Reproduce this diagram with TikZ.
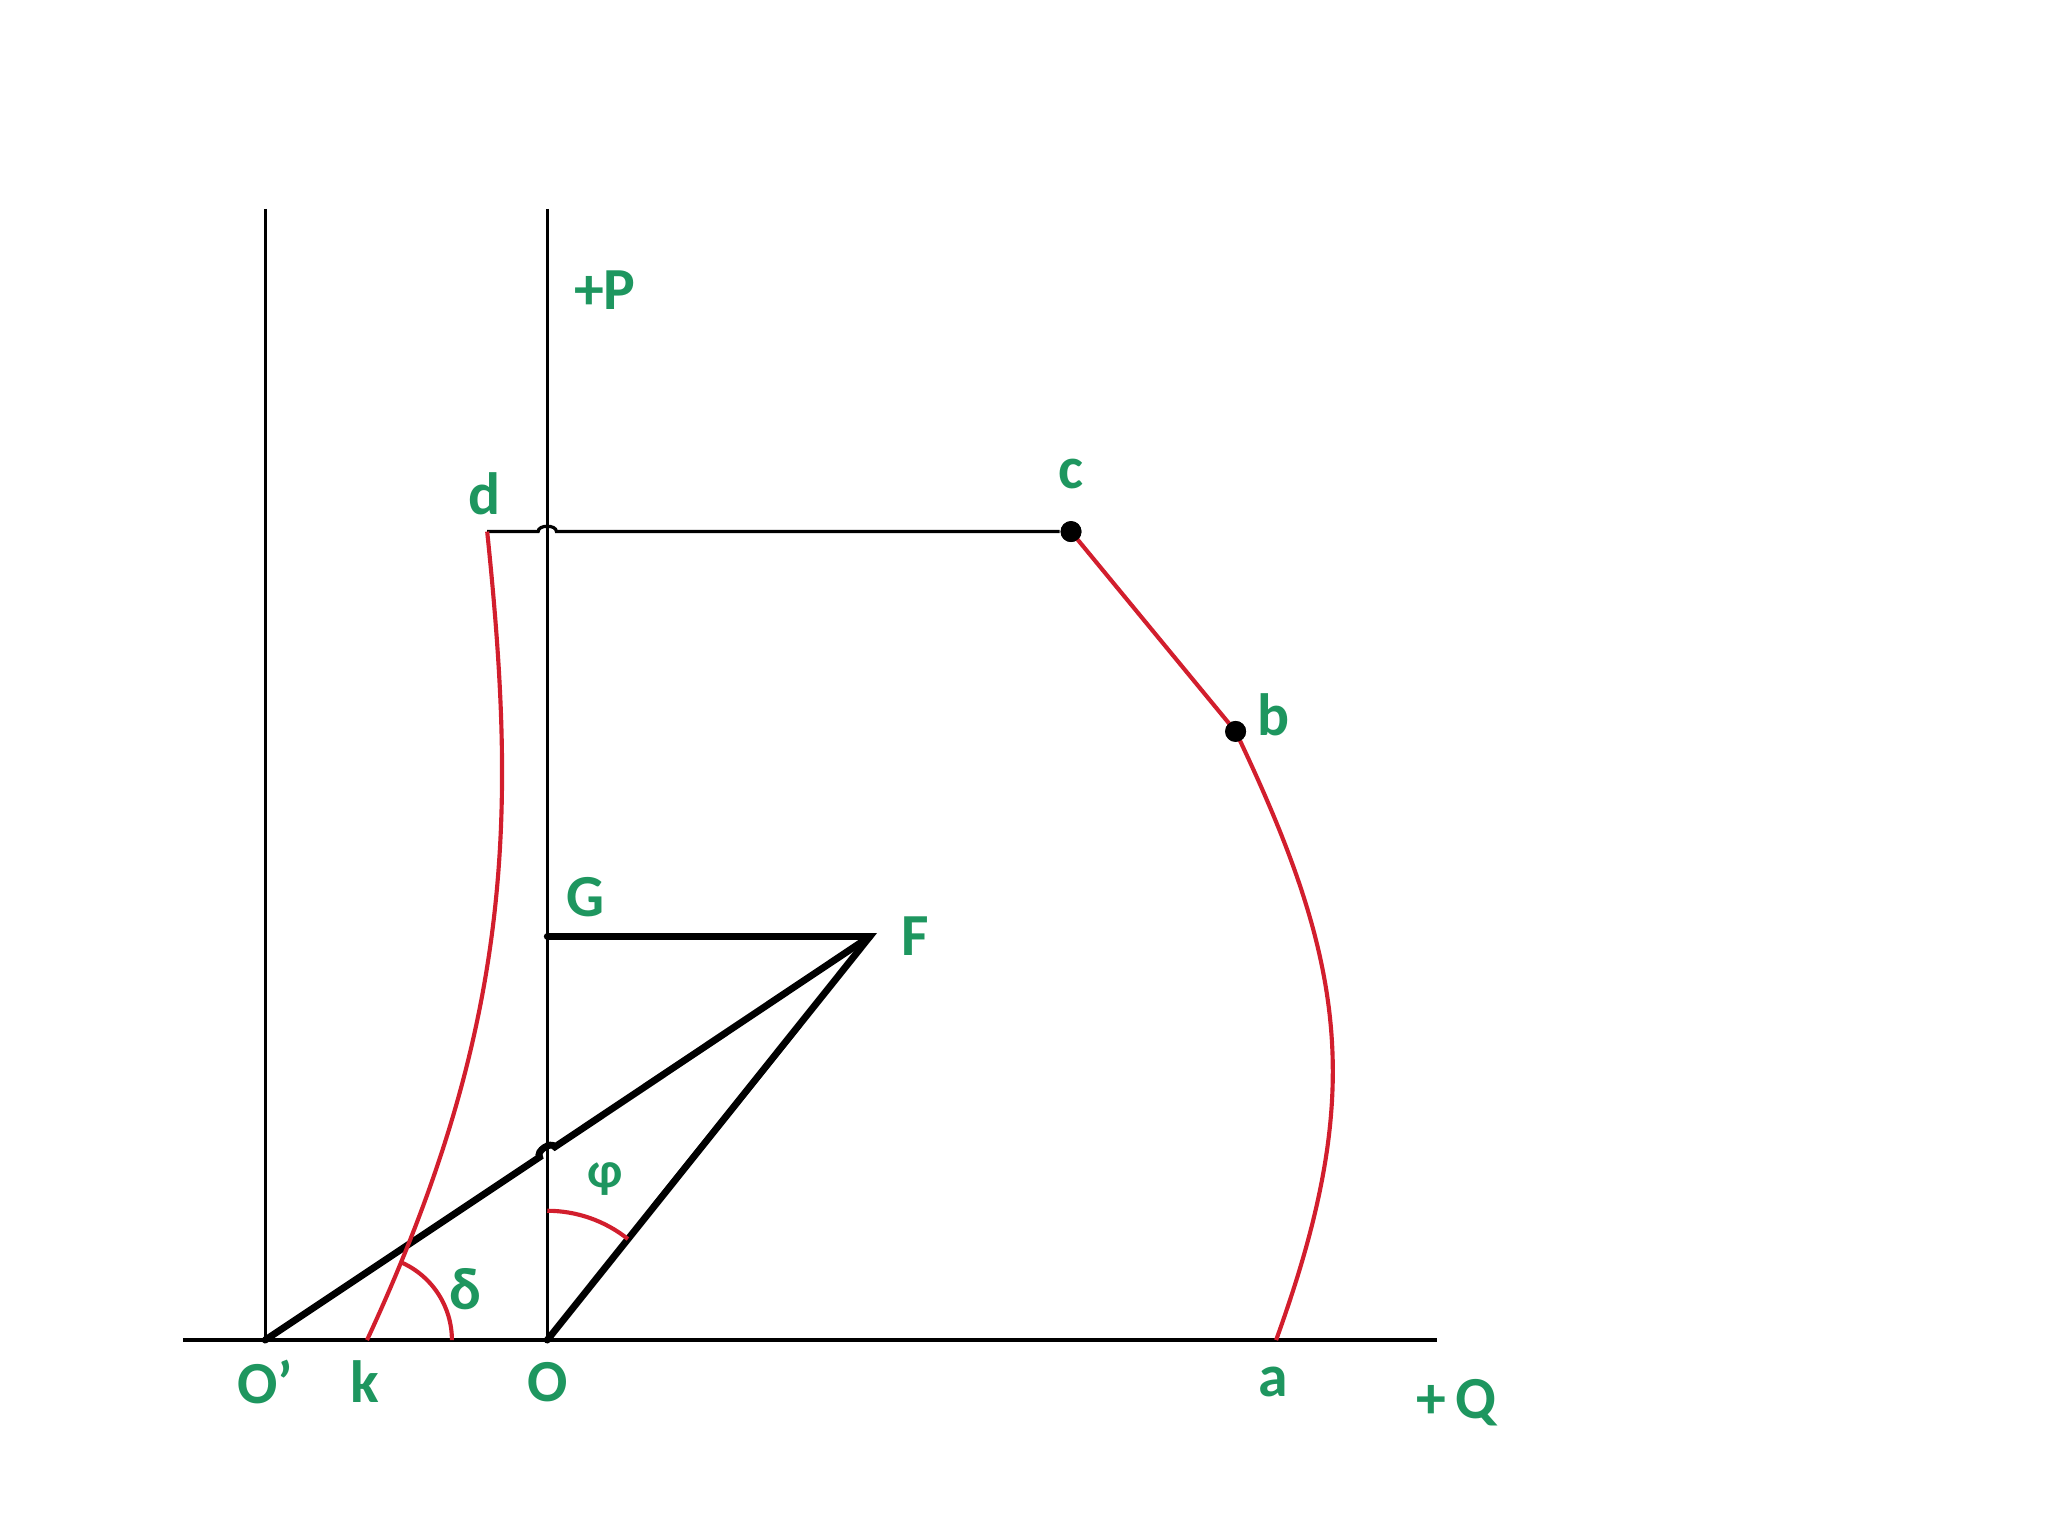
\documentclass[tikz,border=0pt]{standalone}
\usepackage{fontspec}
\setmainfont{Carlito}
\usetikzlibrary{positioning,calc}

\definecolor{lblgreen}{RGB}{30,150,95}
\definecolor{curvered}{RGB}{210,30,45}

\tikzset{
	lbl/.style={text=lblgreen,font=\bfseries\fontsize{13}{15}\selectfont,inner sep=1pt},
	thinline/.style={line width=0.7pt},
	bar/.style={line width=1.5pt,line cap=round},
	redline/.style={draw=curvered,line width=0.9pt},
	dot/.style={circle,fill=black,inner sep=0pt,minimum size=0.16cm}
}

\begin{document}
\begin{tikzpicture}
	\useasboundingbox (0,0) rectangle (15.68,-11.76);
	% points on the Q axis
	\coordinate (Op) at (2.03,-10.26);
	\coordinate (k)  at (2.81,-10.26);
	\coordinate (O)  at (4.19,-10.26);
	\coordinate (a)  at (9.77,-10.26);
	% the two verticals and the axis ends
	\coordinate (Optop) at (2.03,-1.60);
	\coordinate (Otop)  at (4.19,-1.60);
	\coordinate (Qleft)  at (1.40,-10.26);
	\coordinate (Qright) at (11.00,-10.26);
	% the rest
	\coordinate (d) at (3.73,-4.07);
	\coordinate (G) at (4.19,-7.17);
	\coordinate (F) at (6.66,-7.17);
	\coordinate (X) at (4.19,-8.82);
	\coordinate (Y) at (4.19,-4.07);
	\node[dot] (c) at (8.20,-4.07) {};
	\node[dot] (b) at (9.46,-5.60) {};

	% axes
	\draw[thinline] (Optop) -- (Op);
	\draw[thinline] (Otop) -- (O);
	\draw[line width=0.9pt] (Qleft) -- (Qright);

	% line d--c, hopping over the P axis
	\draw[thinline] (d) -- ($(Y)!0.07cm!(d)$) to[bend left=90] ($(Y)!0.07cm!(c)$) -- (c);

	% triangle lines
	\draw[bar] (G) -- (F) -- (O);
	\draw[bar] (Op) -- ($(X)!0.07cm!(Op)$) to[bend left=90] ($(X)!0.07cm!(F)$) -- (F);

	% red curves
	\draw[redline] (d) .. controls (3.95,-6.2) and (3.95,-7.8) .. (k);
	\draw[redline] (c.center) -- (b.center);
	\draw[redline] (b.center) .. controls (10.32,-7.40) and (10.45,-8.38) .. (a);
	\node[dot] at (c) {};
	\node[dot] at (b) {};

	% angles
	\draw[redline] ([shift={(0:0.65)}]k) arc (0:66:0.65);
	\draw[redline] ([shift={(51.4:0.99)}]O) arc (51.4:90:0.99);

	% labels
	\node[lbl] (Plbl) at ($(Otop)+(0.44,-0.62)$) {+P};
	\node[lbl] (Qlbl) at ($(Qright)+(0.15,-0.48)$) {+\,Q};
	\node[lbl] (Oplbl) at ($(Op)+(0,-0.32)$) {O’};
	\node[lbl] (klbl) at ($(k)+(-0.02,-0.32)$) {k};
	\node[lbl] (Olbl) at ($(O)+(0,-0.32)$) {O};
	\node[lbl] (albl) at ($(a)+(-0.02,-0.32)$) {a};
	\node[lbl] (dlbl) at ($(d)+(-0.02,0.29)$) {d};
	\node[lbl] (clbl) at ($(c)+(0,0.44)$) {c};
	\node[lbl] (blbl) at ($(b)+(0.29,0.13)$) {b};
	\node[lbl] (Glbl) at ($(G)+(0.29,0.30)$) {G};
	\node[lbl, right=0.2cm of F] (Flbl) {F};
	\node[lbl, font=\bfseries\fontsize{11}{13}\selectfont] (philbl) at ($(O)+(0.44,1.23)$) {φ};
	\node[lbl] (deltalbl) at ($(k)+(0.75,0.39)$) {δ};
\end{tikzpicture}
\end{document}
